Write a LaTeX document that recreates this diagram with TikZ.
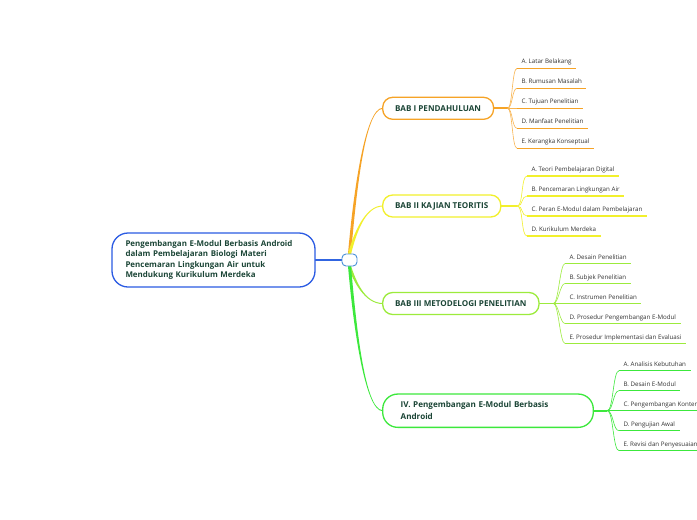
\documentclass[tikz,border=0pt]{standalone}
\usepackage{fontspec}
\setmainfont{Open Sans}
\usetikzlibrary{calc,backgrounds}
\pgfdeclarelayer{bgzero}
\pgfsetlayers{bgzero,background,main}
\definecolor{cOr}{HTML}{F6A326}
\definecolor{cYe}{HTML}{F2F02C}
\definecolor{cLg}{HTML}{9CEB3C}
\definecolor{cGr}{HTML}{3CE83C}
\definecolor{cBlue}{HTML}{2B5BE3}
\definecolor{cHub}{HTML}{4A90D9}
\definecolor{cText}{HTML}{1B4536}
\definecolor{cLeaf}{HTML}{333333}
\tikzset{
 mainbox/.style={draw=cBlue, line width=1.3pt, rounded corners=16pt, fill=white, text=cText,
   font=\fontsize{7.95}{10.5}\selectfont\bfseries, align=left, text width=176pt, inner xsep=13.5pt,
   minimum height=54pt, outer sep=0pt},
 branchbox/.style={line width=1.3pt, rounded corners=10pt, fill=white, text=cText,
   font=\fontsize{8.1}{11.7}\selectfont\bfseries, inner xsep=12.5pt, minimum height=22pt,
   anchor=west, outer sep=0pt},
 leaf/.style={anchor=south west, inner xsep=4.5pt, inner ysep=4.5pt, text height=4.5pt, text depth=0pt,
   font=\fontsize{6.2}{7}\selectfont, text=cLeaf, outer sep=0pt},
 hubbox/.style={draw=cHub, line width=0.9pt, rounded corners=4pt, fill=white, minimum width=15pt,
   minimum height=12pt, inner sep=0pt, outer sep=0pt},
 uline/.style={line width=1.2pt},
 twig/.style={line width=0.6pt},
 stem/.style={line width=1.8pt},
}
\newcommand\taperline[4]{%
 \fill[#1] let \p1=(#2), \p2=(#3) in
 (\x1-1.5pt,\y1) .. controls (\x1+3.5pt,{\y1+0.4*(\y2-\y1)}) and (\x2-18pt,{\y2+(#4)}) .. (\x2,{\y2+(#4)})
 -- (\x2,{\y2-(#4)}) .. controls (\x2-18pt,{\y2-(#4)}) and (\x1+6.5pt,{\y1+0.4*(\y2-\y1)}) .. (\x1+1.5pt,\y1) -- cycle;}
\begin{document}
\begin{tikzpicture}[x=1pt,y=-1pt]
\useasboundingbox (0,0) rectangle (697,520);
\begin{pgfonlayer}{bgzero}
\fill[white] (0,0) rectangle (697,520);
\end{pgfonlayer}

% central topic and hub
\node[mainbox] (main) at (213.5,260) {Pengembangan E-Modul Berbasis Android\\dalam Pembelajaran Biologi Materi\\Pencemaran Lingkungan Air untuk\\Mendukung Kurikulum Merdeka};
\node[hubbox] (hub) at (349.5,260) {};

% branches
\node[branchbox, draw=cOr] (bI) at (382.7,108.3) {BAB I PENDAHULUAN};
\node[branchbox, draw=cYe] (bII) at (382.7,206) {BAB II KAJIAN TEORITIS};
\node[branchbox, draw=cLg] (bIII) at (382.7,303.5) {BAB III METODELOGI PENELITIAN};
\node[branchbox, draw=cGr, align=left, text width=174.6pt, inner xsep=18pt, minimum height=33.3pt, rounded corners=15pt] (bIV) at (382.7,410.7) {IV. Pengembangan E-Modul Berbasis\\Android};

% junctions
\coordinate (jI) at ($(bI.east)+(14,0)$);
\coordinate (jII) at ($(bII.east)+(16.5,0)$);
\coordinate (jIII) at ($(bIII.east)+(14.5,0)$);
\coordinate (jIV) at ($(bIV.east)+(14,0)$);

% leaves
\node[leaf] (Ia) at (517,68.3) {A. Latar Belakang};
\node[leaf] (Ib) at (517,88.3) {B. Rumusan Masalah};
\node[leaf] (Ic) at (517,108.3) {C. Tujuan Penelitian};
\node[leaf] (Id) at (517,128.3) {D. Manfaat Penelitian};
\node[leaf] (Ie) at (517,148.3) {E. Kerangka Konseptual};

\node[leaf] (IIa) at (527,176) {A. Teori Pembelajaran Digital};
\node[leaf] (IIb) at (527,196) {B. Pencemaran Lingkungan Air};
\node[leaf] (IIc) at (527,216) {C. Peran E-Modul dalam Pembelajaran};
\node[leaf] (IId) at (527,236) {D. Kurikulum Merdeka};

\node[leaf] (IIIa) at (565,263.5) {A. Desain Penelitian};
\node[leaf] (IIIb) at (565,283.5) {B. Subjek Penelitian};
\node[leaf] (IIIc) at (565,303.5) {C. Instrumen Penelitian};
\node[leaf] (IIId) at (565,323.5) {D. Prosedur Pengembangan E-Modul};
\node[leaf] (IIIe) at (565,343.5) {E. Prosedur Implementasi dan Evaluasi};

\node[leaf] (IVa) at (619,370.7) {A. Analisis Kebutuhan};
\node[leaf] (IVb) at (619,390.7) {B. Desain E-Modul};
\node[leaf] (IVc) at (619,410.7) {C. Pengembangan Konten};
\node[leaf] (IVd) at (619,430.7) {D. Pengujian Awal};
\node[leaf] (IVe) at (619,450.7) {E. Revisi dan Penyesuaian};

\begin{scope}[on background layer]
% main to hub
\draw[cBlue!80!cHub, line width=1.6pt] (main.east) -- (hub.west);
% tapered branch lines
\taperline{cOr}{hub.north}{bI.west}{0.5pt}
\taperline{cYe}{hub.north}{bII.west}{0.5pt}
\taperline{cLg}{hub.south}{bIII.west}{-0.5pt}
\taperline{cGr}{hub.south}{bIV.west}{-0.5pt}
% stems
\draw[cOr, stem] (bI.east) -- (jI);
\draw[cYe, stem] (bII.east) -- (jII);
\draw[cLg, stem] (bIII.east) -- (jIII);
\draw[cGr, stem] (bIV.east) -- (jIV);
% twigs and underlines
\foreach \l in {Ia,Ib,Ic,Id,Ie}{
  \draw[cOr!80, twig] (jI) .. controls +(5,0) and +(-5,0) .. (\l.south west);
  \draw[cOr, uline] (\l.south west) -- (\l.south east);}
\foreach \l in {IIa,IIb,IIc,IId}{
  \draw[cYe, twig] (jII) .. controls +(6,0) and +(-6,0) .. (\l.south west);
  \draw[cYe, uline] (\l.south west) -- (\l.south east);}
\foreach \l in {IIIa,IIIb,IIIc,IIId,IIIe}{
  \draw[cLg, twig] (jIII) .. controls +(5,0) and +(-5,0) .. (\l.south west);
  \draw[cLg, uline] (\l.south west) -- (\l.south east);}
\foreach \l in {IVa,IVb,IVc,IVd,IVe}{
  \draw[cGr, twig] (jIV) .. controls +(6,0) and +(-6,0) .. (\l.south west);
  \draw[cGr, uline] (\l.south west) -- (\l.south east);}
\end{scope}
\end{tikzpicture}
\end{document}
